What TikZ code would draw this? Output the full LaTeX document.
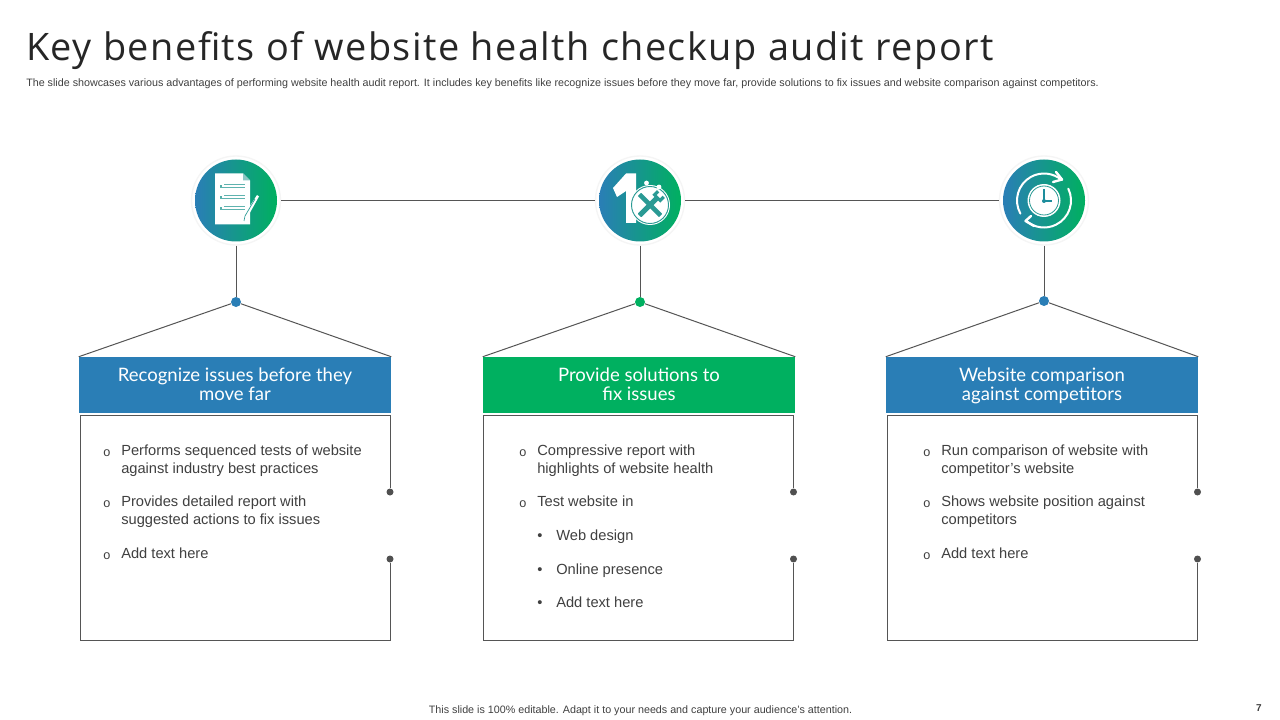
\documentclass[tikz,border=0pt]{standalone}
\usepackage{fontspec}
\setmainfont{Liberation Sans}
\newfontfamily\titlefont[LetterSpace=3.85]{Open Sans}
\newfontfamily\headfont{Lato}
\usetikzlibrary{calc}
\definecolor{bluec}{HTML}{2A7EB6}
\definecolor{greenc}{HTML}{00B060}
\definecolor{tealc}{HTML}{2A9A94}
\definecolor{inkc}{HTML}{404040}
\definecolor{linec}{HTML}{555555}
\definecolor{dotc}{HTML}{505050}
\newcommand{\upr}{\rule{0pt}{10pt}}
\newcommand{\dnr}{\rule[-3pt]{0pt}{3pt}}
\tikzset{
  x=0.75pt,y=-0.75pt,
  wire/.style={draw=linec,line width=0.75pt},
  halo/.style={circle,minimum size=89*0.75pt,inner sep=0pt,fill=white,draw=black!4,line width=1pt},
  disc/.style={circle,minimum size=82*0.75pt,inner sep=0pt,left color=bluec,right color=greenc},
  hub/.style={circle,minimum size=10*0.75pt,inner sep=0pt,fill=#1},
  tip/.style={circle,minimum size=7*0.75pt,inner sep=0pt,fill=dotc},
  headbox/.style={minimum width=312*0.75pt,minimum height=56*0.75pt,inner sep=0pt,fill=#1},
  headtext/.style={inner sep=0pt,text=white,align=center,font=\headfont\fontsize{13.9}{14.3}\selectfont},
  body/.style={anchor=north west,inner sep=0pt,align=left,text=inkc,font=\fontsize{11}{13.5}\selectfont},
  bul/.style={anchor=base,inner sep=0pt,text=inkc,font=\fontsize{9.5}{10}\selectfont},
  dotb/.style={anchor=base,inner sep=0pt,text=inkc,font=\fontsize{11}{10}\selectfont},
  ico/.style={fill=white,draw=none},
  icl/.style={draw=white,line width=1.5pt},
}
\begin{document}
\begin{tikzpicture}
\useasboundingbox (0,0) rectangle (1280,720);
\fill[white] (0,0) rectangle (1280,720);
% title
\node[anchor=base west,inner sep=0pt,text=black!85,font=\titlefont\fontsize{28.4}{32}\selectfont,name=title] at (26,61) {Key benefits of website health checkup audit report};
\node[anchor=base west,inner sep=0pt,text=inkc,font=\fontsize{8.05}{9}\selectfont,name=sub] at (26,86.5) {The slide showcases various advantages of performing website health audit report. It includes key benefits like recognize issues before they move far, provide solutions to fix issues and website comparison against competitors.};
\node[anchor=base,inner sep=0pt,text=inkc,font=\fontsize{8.05}{9}\selectfont,name=foot] at (640.5,713) {This slide is 100\% editable. Adapt it to your needs and capture your audience's attention.};
\node[anchor=base,inner sep=0pt,text=inkc,font=\bfseries\fontsize{7.5}{9}\selectfont,name=pg] at (1259,711) {7};
% halos and discs
\node[halo] (h1) at (236,200.5) {};
\node[halo] (h2) at (640,200.5) {};
\node[halo] (h3) at (1044,200.5) {};
\node[disc] (d1) at (236,200.5) {};
\node[disc] (d2) at (640,200.5) {};
\node[disc] (d3) at (1044,200.5) {};
% hubs
\node[hub=bluec] (c1) at (236,302) {};
\node[hub=greenc] (c2) at (640,302) {};
\node[hub=bluec] (c3) at (1044,301) {};
% header boxes
\node[headbox=bluec] (b1) at (235,385) {};
\node[headbox=greenc] (b2) at (639,385) {};
\node[headbox=bluec] (b3) at (1042,385) {};
\node[headtext] (l1) at (235,386) {\upr Recognize issues before they\\\dnr move far};
\node[headtext] (l2) at (639,386) {\upr Provide solutions to\\\dnr fix issues};
\node[headtext] (l3) at (1042,386) {\upr Website comparison\\\dnr against competitors};
% connectors
\draw[wire] (h1) -- (h2);
\draw[wire] (h2) -- (h3);
\draw[wire] (h1) -- (c1);
\draw[wire] (h2) -- (c2);
\draw[wire] (h3) -- (c3);
\draw[wire] (b1.north west) -- (c1) -- (b1.north east);
\draw[wire] (b2.north west) -- (c2) -- (b2.north east);
\draw[wire] (b3.north west) -- (c3) -- (b3.north east);
% body frames
\node[tip] (t1a) at (390,492) {};
\node[tip] (t1b) at (390,559) {};
\node[tip] (t2a) at (793.5,492) {};
\node[tip] (t2b) at (793.5,559) {};
\node[tip] (t3a) at (1197.5,492) {};
\node[tip] (t3b) at (1197.5,559) {};
\coordinate (f1a) at (80.5,415.5);
\coordinate (f1b) at (80.5,640);
\coordinate (f2a) at (483.5,415.5);
\coordinate (f2b) at (483.5,640);
\coordinate (f3a) at (887.5,415.5);
\coordinate (f3b) at (887.5,640);
\draw[wire] (t1a) |- (f1a) -- (f1b) -| (t1b);
\draw[wire] (t2a) |- (f2a) -- (f2b) -| (t2b);
\draw[wire] (t3a) |- (f3a) -- (f3b) -| (t3b);
% column 1 text
\node[bul] (m11) at (107,456) {o};
\node[body] (x11) at (121,445) {Performs sequenced tests of website\\against industry best practices};
\node[bul] (m12) at (107,507) {o};
\node[body] (x12) at (121,496) {Provides detailed report with\\suggested actions to fix issues};
\node[bul] (m13) at (107,559) {o};
\node[body] (x13) at (121,548) {Add text here};
% column 2 text
\node[bul] (m21) at (523,456) {o};
\node[body] (x21) at (537,445) {Compressive report with\\highlights of website health};
\node[bul] (m22) at (523,507) {o};
\node[body] (x22) at (537,496) {Test website in};
\node[dotb] (m23) at (540,540.5) {•};
\node[body] (x23) at (556,530) {Web design};
\node[dotb] (m24) at (540,574.5) {•};
\node[body] (x24) at (556,564) {Online presence};
\node[dotb] (m25) at (540,607.5) {•};
\node[body] (x25) at (556,597) {Add text here};
% column 3 text
\node[bul] (m31) at (927,456) {o};
\node[body] (x31) at (941,445) {Run comparison of website with\\competitor's website};
\node[bul] (m32) at (927,507) {o};
\node[body] (x32) at (941,496) {Shows website position against\\competitors};
\node[bul] (m33) at (927,559) {o};
\node[body] (x33) at (941,548) {Add text here};
% icon 1: document and pen
\fill[ico] (215,173.5) -- (243,173.5) -- (250,180.5) -- (250,224.5) -- (215,224.5) -- cycle;
\fill[tealc!55] (243,173.5) -- (250,180.5) -- (243,180.5) -- cycle;
\foreach \yy in {186,197,208}{
  \fill[tealc!80] (220,\yy-1) rectangle (222,\yy+1);
  \draw[tealc!75,line width=0.8pt] (224,\yy-1.5) -- (245,\yy-1.5) (220,\yy+1.5) -- (245,\yy+1.5);
}
\fill[white] (257,195) -- (259,196.5) -- (247,218) -- (243,222.5) -- (243.5,216) -- cycle;
\draw[tealc,line width=0.5pt] (255,199) -- (245,216) -- (244,221);
% icon 2: digit 1 and stopwatch with tools
\fill[ico] (613,188) -- (626,173.5) -- (636,173.5) -- (636,223) -- (626,223) -- (626,191) -- (617,197) -- cycle;
\fill[white] (650,205) circle (20);
\draw[tealc,line width=0.7pt] (650,205) circle (18.5);
\fill[white] (646.5,183) circle (2.4) (659,187) circle (2.4);
\begin{scope}[shift={(650,205)},rotate=45]
  \fill[tealc,rounded corners=0.5pt] (-2.3,-15) rectangle (2.3,15);
\end{scope}
\begin{scope}[shift={(650,205)},rotate=-45]
  \fill[tealc,rounded corners=0.5pt] (-2.6,-13) rectangle (2.6,15);
  \fill[tealc] (-5.5,-15.5) rectangle (5.5,-9);
  \fill[white] (-2.2,-17) rectangle (2.2,-12);
\end{scope}
% icon 3: clock with cycle arrows
\draw[icl,line cap=round] (1044,200.5) ++(151:27) arc[start angle=151,end angle=311,radius=27];
\draw[icl,line cap=round] (1044,200.5) ++(-26:27) arc[start angle=-26,end angle=132,radius=27];
\draw[icl,line width=1.8pt,line cap=round,line join=round] (1056,172) -- (1062,179.5) -- (1053,182);
\draw[icl,line width=1.8pt,line cap=round,line join=round] (1031,216) -- (1025.5,221) -- (1034,226);
\fill[white] (1044,200.5) circle (16.5);
\draw[tealc,line width=0.6pt] (1044,200.5) circle (14.5);
\draw[bluec!70!greenc,line width=1.2pt] (1044,189.5) -- (1044,201) -- (1052,201);
\fill[bluec!70!greenc] (1044,201) circle (2);
\end{tikzpicture}
\end{document}
